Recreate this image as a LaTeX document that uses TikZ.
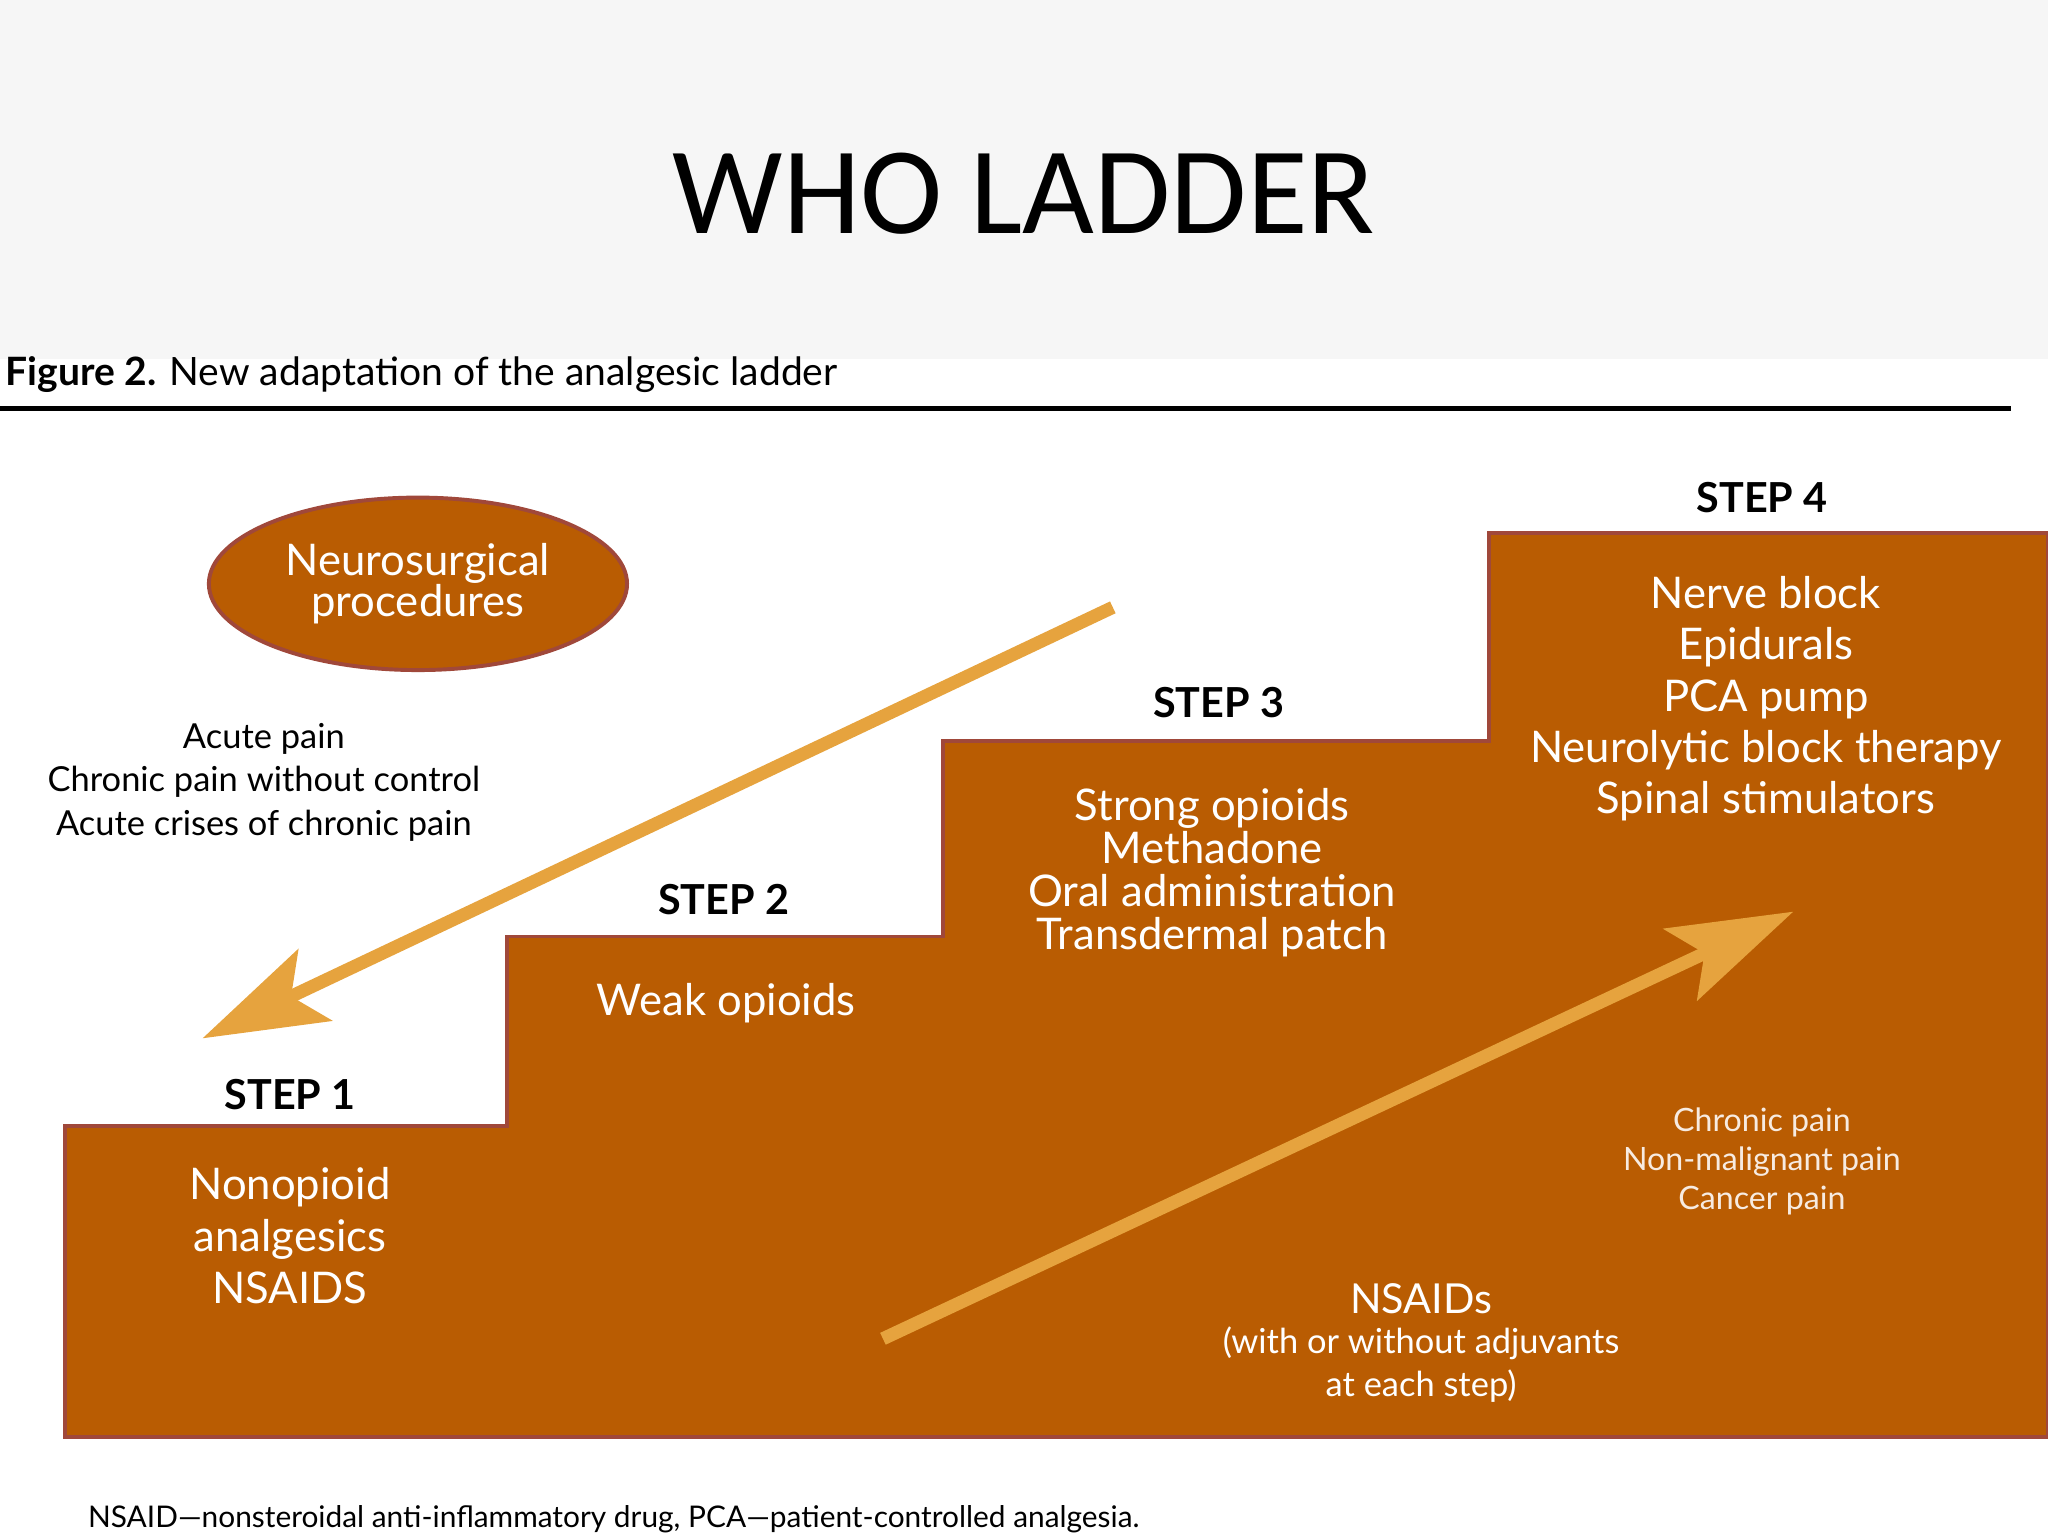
\documentclass[tikz,border=0pt]{standalone}
\usepackage{fontspec}
\setmainfont{Carlito}
\newfontfamily\fig{Lato}
\usetikzlibrary{arrows.meta,shapes.geometric}
\definecolor{brn}{HTML}{B95C02}
\definecolor{edge}{HTML}{A0483A}
\definecolor{arr}{HTML}{E6A33E}
\begin{document}
\begin{tikzpicture}[x=0.01cm,y=-0.01cm,
  wt/.style={text=white,align=center,font=\fig\fontsize{9.5}{11}\selectfont},
  st/.style={font=\fig\bfseries\fontsize{9}{11}\selectfont},
  bt/.style={align=center,font=\fig\fontsize{7.5}{9.3}\selectfont},
  ar/.style={arr,line width=0.1cm,-{Stealth[length=0.95cm,width=0.6cm,inset=0.2cm]}}]
\useasboundingbox (0,0) rectangle (1568,1176);
\fill[gray!7] (0,0) rectangle (1568,275);
\node (title) at (784,148) {\fontsize{27}{30}\selectfont WHO LADDER};
\node[anchor=west,font=\fig\fontsize{8.5}{10}\selectfont,inner sep=1pt] (cap) at (0,287) {\textbf{Figure 2.} New adaptation of the analgesic ladder};
\draw[line width=0.04cm] (0,313) -- (1540,313);
\fill[brn,draw=edge,line width=0.03cm] (50,862) -- (388,862) -- (388,717) -- (722,717) -- (722,567) -- (1140,567) -- (1140,408) -- (1568,408) -- (1568,1100) -- (50,1100) -- cycle;
\node[ellipse,fill=brn,draw=edge,line width=0.03cm,minimum width=3.2cm,minimum height=1.32cm,wt,inner sep=0pt] (neuro) at (320,447) {Neurosurgical\\[-2pt]procedures};
\node[bt,font=\fig\fontsize{7.5}{9.4}\selectfont] (acute) at (202,599) {Acute pain\\Chronic pain without control\\Acute crises of chronic pain};
\coordinate (d1) at (852,465); \coordinate (d2) at (155,795);
\draw[ar] (d1) -- (d2);
\coordinate (u1) at (676,1025); \coordinate (u2) at (1373,698);
\draw[ar] (u1) -- (u2);
\node[st] (s1) at (222,838) {STEP 1};
\node[st] (s2) at (554,689) {STEP 2};
\node[st] (s3) at (933,538) {STEP 3};
\node[st] (s4) at (1349,381) {STEP 4};
\node[wt,font=\fig\fontsize{9.5}{11.3}\selectfont] (t1) at (222,946) {Nonopioid\\analgesics\\NSAIDS};
\node[wt] (t2) at (556,768) {Weak opioids};
\node[wt,font=\fig\fontsize{9.5}{9.4}\selectfont] (t3) at (928,668) {Strong opioids\\Methadone\\Oral administration\\Transdermal patch};
\node[wt,font=\fig\fontsize{9.5}{11.2}\selectfont] (t4) at (1352,535) {Nerve block\\Epidurals\\PCA pump\\Neurolytic block therapy\\Spinal stimulators};
\node[bt,text=white!88!brn,font=\fig\fontsize{7}{8.5}\selectfont] (chr) at (1349,889) {Chronic pain\\Non-malignant pain\\Cancer pain};
\node[wt,font=\fig\fontsize{9}{10}\selectfont] (ns) at (1088,994) {NSAIDs};
\node[bt,text=white,font=\fig\fontsize{7.5}{9.3}\selectfont] (adj) at (1088,1045) {(with or without adjuvants\\at each step)};
\node[anchor=west,font=\fig\fontsize{6.5}{8}\selectfont] (foot) at (55,1163) {NSAID\textemdash nonsteroidal anti-inflammatory drug, PCA\textemdash patient-controlled analgesia.};
\end{tikzpicture}
\end{document}
